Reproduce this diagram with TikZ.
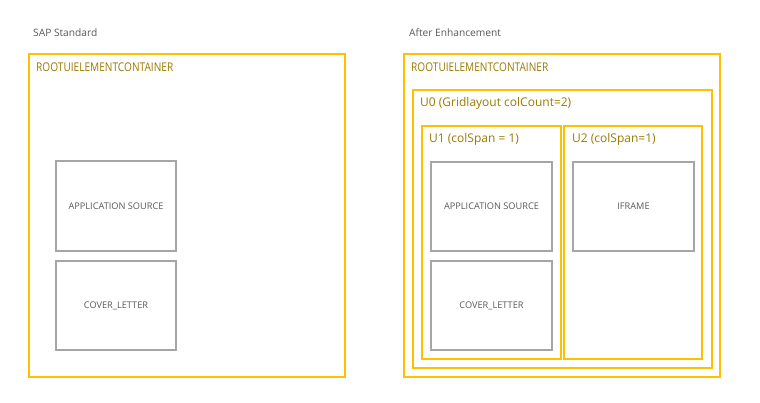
\documentclass[tikz,border=0pt]{standalone}
\usepackage{fontspec}
\setmainfont{Open Sans}
\definecolor{gold}{HTML}{FFC000}
\definecolor{goldtext}{HTML}{9C7A00}
\definecolor{boxgray}{HTML}{A6A6A6}
\definecolor{txtgray}{HTML}{595959}
\newcommand{\rootlabel}{\scalebox{0.843}[1]{ROOTUIELEMENTCONTAINER}}
\begin{document}
\begin{tikzpicture}[x=1pt,y=-1pt,
  container/.style={draw=gold,line width=2pt},
  element/.style={draw=boxgray,line width=2pt},
  ctitle/.style={anchor=west,inner sep=0pt,text=goldtext,font=\fontsize{12}{14}\selectfont},
  etitle/.style={inner sep=0pt,text=txtgray,font=\fontsize{9.2}{11}\selectfont},
  heading/.style={anchor=west,inner sep=0pt,text=txtgray,font=\fontsize{10.2}{12}\selectfont}]
\useasboundingbox[fill=white] (0,0) rectangle (760,402);
% left
\node[heading] (h1) at (33,33) {SAP Standard};
\draw[container] (29,54) rectangle (345,377);
\node[ctitle] (rootLt) at (36,67) {\rootlabel};
\draw[element] (56,161) rectangle (176,251);
\node[etitle] (appL) at (116,206) {APPLICATION SOURCE};
\draw[element] (56,261) rectangle (176,350);
\node[etitle] (covL) at (116,305.5) {COVER\_LETTER};
% right
\node[heading] (h2) at (409,33) {After Enhancement};
\draw[container] (404,54) rectangle (720,377);
\node[ctitle] (rootRt) at (411,67) {\rootlabel};
\draw[container] (413,90) rectangle (712,368);
\node[ctitle] (u0) at (420,103) {U0 (Gridlayout colCount=2)};
\draw[container] (422,126) rectangle (561,359);
\node[ctitle] (u1) at (429,139) {U1 (colSpan = 1)};
\draw[container] (564,126) rectangle (702,359);
\node[ctitle] (u2) at (572,139) {U2 (colSpan=1)};
\draw[element] (431,162) rectangle (552,251);
\node[etitle] (appR) at (491.5,206.5) {APPLICATION SOURCE};
\draw[element] (431,261) rectangle (552,350);
\node[etitle] (covR) at (491.5,305.5) {COVER\_LETTER};
\draw[element] (573,162) rectangle (694,251);
\node[etitle] (ifr) at (633.5,206.5) {IFRAME};
\end{tikzpicture}
\end{document}
